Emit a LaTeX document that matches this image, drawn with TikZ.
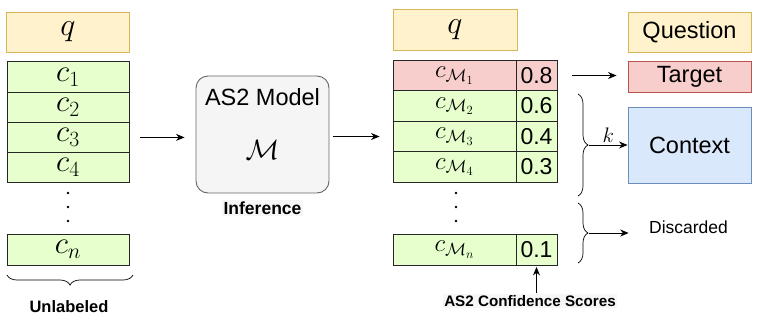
\RequirePackage{fix-cm}
\documentclass[tikz,border=0pt]{standalone}
\usepackage{fontspec}
\setmainfont{Liberation Sans}
\usetikzlibrary{arrows.meta,decorations.pathreplacing}
\definecolor{qfill}{HTML}{FFF2CC}\definecolor{qdraw}{HTML}{D6B656}
\definecolor{gfill}{HTML}{E6FFCC}
\definecolor{tfill}{HTML}{F8CECC}\definecolor{tdraw}{HTML}{B85450}
\definecolor{bfill}{HTML}{DAE8FC}\definecolor{bdraw}{HTML}{6C8EBF}
\definecolor{mfill}{HTML}{F5F5F5}\definecolor{mdraw}{HTML}{666666}
\begin{document}
\begin{tikzpicture}[x=1pt,y=-1pt,line width=0.9pt,
  qbox/.style={draw=qdraw,fill=qfill,minimum width=123pt,minimum height=40pt,inner sep=0pt},
  cbox/.style={draw=black!85,fill=gfill,minimum width=122pt,minimum height=30.2pt,inner sep=0pt,font=\fontsize{31}{33}\selectfont},
  mcell/.style={draw=black!85,fill=gfill,minimum width=123pt,minimum height=30.5pt,inner sep=0pt,font=\fontsize{25}{27}\selectfont},
  scell/.style={draw=black!85,fill=gfill,minimum width=41pt,minimum height=30.5pt,inner sep=0pt,font=\fontsize{23}{25}\selectfont},
  arr/.style={-{Stealth[length=8.5pt,width=7pt]}},
  dot/.style={circle,fill=black,inner sep=0pt,minimum size=2.8pt},
  brc/.style={decorate,decoration={brace,amplitude=10pt}},
  lab/.style={fill=gray!7,inner sep=1.5pt,font=\bfseries\fontsize{16.5}{18}\selectfont}
]
\useasboundingbox (0,0) rectangle (765,325);

% left column
\node[qbox,font=\fontsize{32}{34}\selectfont] (q) at (68,32) {$q$};
\node[cbox] (c1) at (68,77) {$c_1$};
\node[cbox] (c2) at (68,107.2) {$c_2$};
\node[cbox] (c3) at (68,137.4) {$c_3$};
\node[cbox] (c4) at (68,167.6) {$c_4$};
\node[dot] (d1) at (68,193) {};
\node[dot] (d2) at (68,207) {};
\node[dot] (d3) at (68,221) {};
\node[cbox,minimum height=31pt] (cn) at (68,249.5) {$c_n$};
\draw[brc,line width=0.7pt] (133,275) -- (7,275);
\node[lab,fill=none] (unl) at (69,307) {Unlabeled};

% model
\node[draw=mdraw,fill=mfill,rounded corners=12pt,minimum width=133pt,minimum height=117pt] (model) at (262.5,134.5) {};
\node[font=\fontsize{23.5}{25}\selectfont] (mname) at (262.5,97) {AS2 Model};
\node[font=\fontsize{28}{30}\selectfont] (mcal) at (262.5,150) {$\mathcal{M}$};
\node[lab,font=\bfseries\fontsize{17.5}{19}\selectfont] (inf) at (262.5,208) {Inference};

\draw[arr,shorten <=11pt,shorten >=11pt] (c3.east) -- (c3.east -| model.west);

% right column
\node[qbox,minimum width=124pt,minimum height=41pt,font=\fontsize{32}{34}\selectfont] (q2) at (455,30) {$q$};
\node[mcell,fill=tfill] (m1) at (454.5,75.5) {$c_{\mathcal{M}_1}$};
\node[scell,fill=tfill] (s1) at (536.5,75.5) {0.8};
\node[mcell] (m2) at (454.5,106) {$c_{\mathcal{M}_2}$};
\node[scell] (s2) at (536.5,106) {0.6};
\node[mcell] (m3) at (454.5,136.5) {$c_{\mathcal{M}_3}$};
\node[scell] (s3) at (536.5,136.5) {0.4};
\node[mcell] (m4) at (454.5,167) {$c_{\mathcal{M}_4}$};
\node[scell] (s4) at (536.5,167) {0.3};
\node[dot] (e1) at (456,193) {};
\node[dot] (e2) at (456,207) {};
\node[dot] (e3) at (456,221) {};
\node[mcell,minimum height=31pt] (mn) at (454.5,249.5) {$c_{\mathcal{M}_n}$};
\node[scell,minimum height=31pt] (sn) at (536.5,249.5) {0.1};

\draw[arr,shorten <=4pt,shorten >=13pt] (m3.west -| model.east) -- (m3.west);

\node[lab,font=\bfseries\fontsize{15.2}{17}\selectfont] (conf) at (530,301) {AS2 Confidence Scores};
\draw[arr,shorten >=1.5pt] (conf.north -| sn.south) -- (sn.south);

% legend / outputs
\node[draw=qdraw,fill=qfill,minimum width=123pt,minimum height=40pt,inner sep=0pt,font=\fontsize{23.5}{25}\selectfont] (question) at (689.5,32) {Question};
\node[draw=tdraw,fill=tfill,minimum width=123pt,minimum height=31pt,inner sep=0pt,font=\fontsize{23.5}{25}\selectfont] (target) at (689.5,76.5) {Target};
\node[draw=bdraw,fill=bfill,minimum width=123pt,minimum height=76pt,inner sep=0pt,font=\fontsize{23.5}{25}\selectfont] (context) at (689.5,145) {Context};
\node[inner sep=0pt,font=\fontsize{17.5}{19}\selectfont] (disc) at (688.5,227) {Discarded};

\draw[arr,shorten <=15pt,shorten >=11pt] (s1.east) -- (s1.east -| target.west);

\draw[brc,line width=0.7pt] (578,94) -- (578,196);
\coordinate (kb) at (589,145);
\draw[arr] (kb) -- (kb -| context.west) node[midway,above=-1pt,font=\fontsize{21}{23}\selectfont] (klab) {$k$};

\draw[brc,line width=0.7pt] (578,203) -- (578,263);
\coordinate (db) at (589,233);
\draw[arr,shorten >=20pt] (db) -- (db -| disc.west);
\end{tikzpicture}
\end{document}
